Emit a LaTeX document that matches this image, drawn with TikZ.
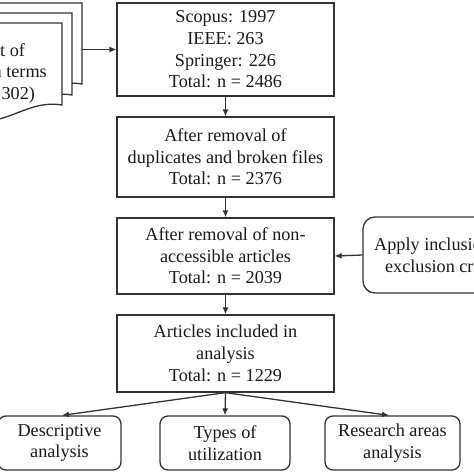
\documentclass[tikz,border=0pt]{standalone}
\usepackage{fontspec}
\setmainfont{Liberation Serif}
\usetikzlibrary{arrows.meta}
\definecolor{ln}{HTML}{333333}
\definecolor{tx}{HTML}{1A1A1A}
\begin{document}
\begin{tikzpicture}[x=1pt,y=-1pt,
  every node/.style={font=\fontsize{18.2}{21.7}\selectfont, text=tx, align=center, inner sep=0pt},
  box/.style={draw=ln, line width=1.3pt, fill=white},
  rbox/.style={box, rounded corners=8pt},
  doc/.style={draw=ln, line width=1.3pt, fill=white},
  arr/.style={draw=ln, line width=1.3pt, -{Latex[length=7pt,width=6pt]}}]
\useasboundingbox (0,0) rectangle (474,474);
% document stack
\path[doc] (82,84) .. controls (40,77) and (20,114) .. (-40,91) -- (-40,3) -- (82,3) -- cycle;
\path[doc] (72,95) .. controls (30,88) and (10,125) .. (-50,102) -- (-50,13) -- (72,13) -- cycle;
\path[doc] (62,105) .. controls (20,98) and (0,140) .. (-60,112) -- (-60,23) -- (62,23) -- cycle;
\node (docs) at (1,73.5) {List of\\search terms\\(n = 302)};
\coordinate (docR) at (82,49.5);
% main boxes
\node[box, minimum width=217pt, minimum height=93pt] (b1) at (225.5,49.5) {Scopus: 1997\\IEEE: 263\\Springer: 226\\Total: n = 2486};
\node[box, minimum width=217pt, minimum height=80pt] (b2) at (225.5,157) {After removal of\\duplicates and broken files\\Total: n = 2376};
\node[box, minimum width=217pt, minimum height=76pt] (b3) at (225.5,256) {After removal of non-\\accessible articles\\Total: n = 2039};
\node[box, minimum width=217pt, minimum height=77pt] (b4) at (225.5,353.5) {Articles included in\\analysis\\Total: n = 1229};
\node[rbox, rounded corners=12pt, minimum width=170pt, minimum height=76pt] (apply) at (448,255) {Apply inclusion and\\exclusion criteria};
% bottom boxes
\node[rbox, minimum width=123pt, minimum height=54pt] (d) at (59.5,443) {Descriptive\\analysis};
\node[rbox, minimum width=130pt, minimum height=54pt] (t) at (225,443) {Types of\\utilization};
\node[rbox, minimum width=135pt, minimum height=54pt] (r) at (392.5,443) {Research areas\\analysis};
% connectors
\draw[arr] (docR) -- (b1.west);
\draw[arr] (b1) -- (b2);
\draw[arr] (b2) -- (b3);
\draw[arr] (b3) -- (b4);
\draw[arr] (apply.west) -- (b3.east);
\draw[arr] (b4.south) -- ([xshift=2.5pt]d.north);
\draw[arr] (b4.south) -- (t.north);
\draw[arr] (b4.south) -- ([xshift=-3.5pt]r.north);
\end{tikzpicture}
\end{document}
